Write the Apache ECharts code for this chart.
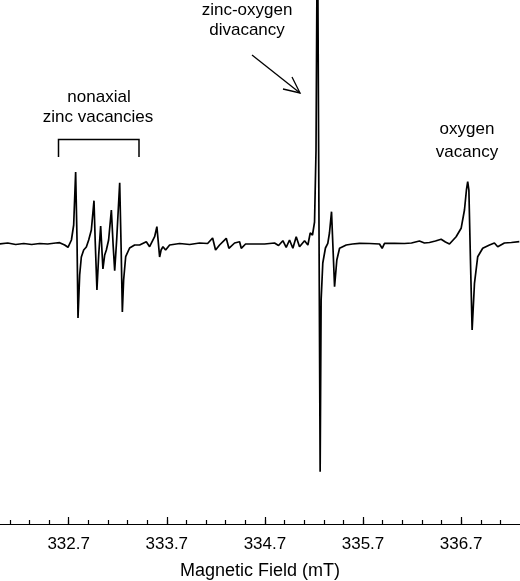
<!DOCTYPE html>
<html>
<head>
<meta charset="utf-8">
<title>EPR spectrum</title>
<script src="https://cdn.jsdelivr.net/npm/echarts@6/dist/echarts.min.js"></script>
<style>
    html, body { margin: 0; padding: 0; background: #fff; }
    #spectrumChart { width: 520px; height: 581px; }
</style>
</head>
<body>
<div id="spectrumChart"></div>
<script>
// magnetic field (mT)
const fieldValues = [
    331.997, 332.079, 332.160, 332.242, 332.323, 332.405, 332.486, 332.568, 332.608, 332.659,
    332.693, 332.728, 332.751, 332.771, 332.785, 332.795, 332.812, 332.829, 332.853, 332.880,
    332.904, 332.931, 332.958, 332.970, 332.988, 333.006, 333.026, 333.049, 333.067, 333.084,
    333.107, 333.135, 333.153, 333.169, 333.189, 333.220, 333.235, 333.247, 333.260, 333.281,
    333.321, 333.372, 333.423, 333.491, 333.525, 333.576, 333.599, 333.627, 333.642, 333.661,
    333.688, 333.729, 333.831, 333.933, 334.034, 334.116, 334.167, 334.197, 334.238, 334.306,
    334.333, 334.391, 334.442, 334.459, 334.503, 334.595, 334.697, 334.798, 334.839, 334.883,
    334.917, 334.951, 334.985, 335.019, 335.053, 335.104, 335.138, 335.162, 335.185, 335.206,
    335.221, 335.231, 335.239, 335.263, 335.273, 335.290, 335.317, 335.341, 335.358, 335.379,
    335.410, 335.433, 335.461, 335.529, 335.593, 335.664, 335.766, 335.868, 335.895, 335.919,
    336.021, 336.122, 336.194, 336.275, 336.326, 336.377, 336.438, 336.496, 336.540, 336.581,
    336.649, 336.700, 336.734, 336.754, 336.767, 336.779, 336.795, 336.812, 336.836, 336.869,
    336.920, 336.989, 337.039, 337.073, 337.141, 337.212, 337.293
];

// first-derivative signal (arbitrary units)
const signalValues = [
    -1, 0, -1.5, -0.5, -1.5, -0.5, -1, 0, 0.3, -2,
    -4.3, 3, 18, 71, 3, -75, -32, -14, -7, -4,
    3, 13, 42.3, 3, -47, -12, 17, -26, -12, -7,
    3, 33, -2, -27.7, 3, 60.3, -7, -69, -37, -13.7,
    -5, -2, -2, 1.3, -3.7, 6.3, 16.3, -14, -7, -3.7,
    -7, -2, -0.5, -1.5, 0, -0.5, 5, -7, -2, 4.7,
    -5.3, 0, 1.3, -5.3, -1, -1, -1, 0, -2.5, 2.3,
    -4.3, 3, -5.3, 6.3, -3.7, 2.3, -2, 10, 8, 21,
    93, 270, 275, -228.7, -57, -20, -5, -0.3, 10, 31.3,
    -43.7, -17, -5.3, -2, -1, -0.3, -0.5, -1, -5.3, -0.3,
    -0.3, -0.5, 0, 2, 0, 0.5, 2, 3.7, 1, -1,
    6.3, 14.7, 33, 53, 61.3, 53, -17, -87, -40.3, -13.7,
    -5.3, -2, 0, -3.7, 0, 0.5, 1.3
];

const minorTicks = [
    332.1, 332.3, 332.5, 332.7, 332.9, 333.1, 333.3, 333.5, 333.7, 333.9,
    334.1, 334.3, 334.5, 334.7, 334.9, 335.1, 335.3, 335.5, 335.7, 335.9,
    336.1, 336.3, 336.5, 336.7, 336.9, 337.1
];
const majorTicks = [332.7, 333.7, 334.7, 335.7, 336.7];

const FONT = '"Liberation Sans", Arial, Helvetica, sans-serif';

window.onload = () => {
    new SpectrumChart().main();
};

class SpectrumChart {
    chart;

    main() {
        this.chart = echarts.init(document.getElementById('spectrumChart'));
        this.chart.setOption(this.buildOption());
    }

    buildOption() {
        let points = fieldValues.map((f, i) => [f, signalValues[i]]);
        let textStyle = { fill: '#000', font: '17px ' + FONT, textAlign: 'center', textVerticalAlign: 'middle' };

        return {
            animation: false,
            backgroundColor: '#fff',
            grid: { left: 0, right: 0, top: 0, bottom: 57, containLabel: false, outerBoundsMode: 'none' },
            xAxis: [{
                type: 'value',
                position: 'bottom',
                min: 332.0,
                max: 337.3,
                name: 'Magnetic Field (mT)',
                nameLocation: 'middle',
                nameGap: 38,
                nameTextStyle: { color: '#000', fontSize: 18, fontFamily: FONT },
                axisLine: { onZero: false, lineStyle: { color: '#000', width: 1.2 } },
                axisTick: { inside: true, length: 4, customValues: minorTicks, lineStyle: { color: '#000', width: 1.2 } },
                axisLabel: { show: false },
                splitLine: { show: false }
            }, {
                type: 'value',
                position: 'bottom',
                min: 332.0,
                max: 337.3,
                axisLine: { show: false, onZero: false },
                axisTick: { inside: true, length: 7, customValues: majorTicks, lineStyle: { color: '#000', width: 1.2 } },
                axisLabel: {
                    customValues: majorTicks,
                    formatter: v => v.toFixed(1),
                    margin: 12,
                    color: '#000',
                    fontSize: 17,
                    fontFamily: FONT
                },
                splitLine: { show: false }
            }],
            yAxis: {
                type: 'value',
                min: -281,
                max: 243,
                show: false,
                axisLine: { onZero: false },
                splitLine: { show: false }
            },
            series: [{
                type: 'line',
                xAxisIndex: 0,
                data: points,
                showSymbol: false,
                clip: true,
                lineStyle: { color: '#000', width: 1.7 }
            }],
            graphic: [
                { type: 'text', x: 247, y: 10, style: Object.assign({ text: 'zinc-oxygen' }, textStyle) },
                { type: 'text', x: 247, y: 30, style: Object.assign({ text: 'divacancy' }, textStyle) },
                { type: 'text', x: 99, y: 97, style: Object.assign({ text: 'nonaxial' }, textStyle) },
                { type: 'text', x: 98, y: 117, style: Object.assign({ text: 'zinc vacancies' }, textStyle) },
                { type: 'text', x: 467, y: 129, style: Object.assign({ text: 'oxygen' }, textStyle) },
                { type: 'text', x: 467, y: 152, style: Object.assign({ text: 'vacancy' }, textStyle) },
                {
                    type: 'polyline',
                    shape: { points: [[58.5, 157], [58.5, 139.5], [139, 139.5], [139, 157]] },
                    style: { stroke: '#000', lineWidth: 1.5, fill: null }
                },
                {
                    type: 'line',
                    shape: { x1: 252, y1: 55, x2: 300, y2: 93 },
                    style: { stroke: '#000', lineWidth: 1.3 }
                },
                {
                    type: 'polyline',
                    shape: { points: [[283, 89], [300, 93], [292, 77]] },
                    style: { stroke: '#000', lineWidth: 1.3, fill: null }
                }
            ]
        };
    }
}
</script>
</body>
</html>
